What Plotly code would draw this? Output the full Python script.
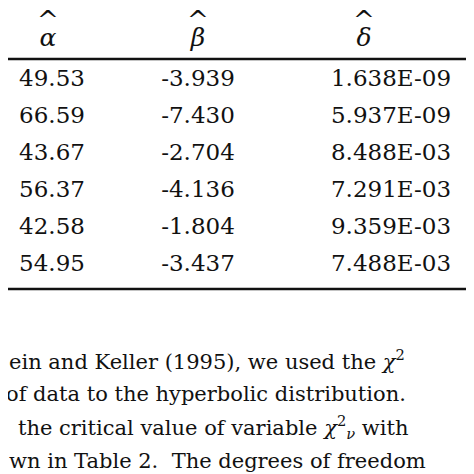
import plotly.graph_objects as go

# ---------- data ----------
headers = ["<i>α</i>", "<i>β</i>", "<i>δ</i>"]
alpha = ["49.53", "66.59", "43.67", "56.37", "42.58", "54.95"]
beta = ["-3.939", "-7.430", "-2.704", "-4.136", "-1.804", "-3.437"]
delta = ["1.638E-09", "5.937E-09", "8.488E-03", "7.291E-03", "9.359E-03", "7.488E-03"]
text_lines = [
    "ein and Keller (1995), we used the <i>χ</i><sup>2</sup>",
    "of data to the hyperbolic distribution.",
    "the critical value of variable <i>χ</i><sup>2</sup><sub><i>ν</i></sub> with",
    "wn in Table 2.  The degrees of freedom",
]

# ---------- layout ----------
col_x = [44, 190, 383]
head_x = [40, 190, 356]
row_y0, row_dy = 72, 37
text_x = [-1, -4, 8, -1]
text_y0, text_dy = 352, 33.5
font = "DejaVu Serif"

fig = go.Figure()
for j, col in enumerate([alpha, beta, delta]):
    fig.add_trace(go.Scatter(
        x=[col_x[j]] * len(col),
        y=[row_y0 + i * row_dy for i in range(len(col))],
        text=col, mode="text", textposition="middle center",
        textfont=dict(family=font, size=23, color="#111"),
        hoverinfo="skip", showlegend=False))

fig.add_trace(go.Scatter(
    x=head_x, y=[32] * 3, text=headers, mode="text",
    textfont=dict(family=font, size=25, color="#111"),
    hoverinfo="skip", showlegend=False))
# the wide hats over the header symbols
fig.add_trace(go.Scatter(
    x=head_x, y=[14] * 3, text=["^"] * 3, mode="text",
    textfont=dict(family=font, size=26, color="#111"),
    hoverinfo="skip", showlegend=False))

for k, line in enumerate(text_lines):
    fig.add_annotation(x=0, xref="paper", xshift=text_x[k],
                       y=text_y0 + k * text_dy, text=line,
                       xanchor="left", yanchor="middle", showarrow=False,
                       font=dict(family=font, size=21, color="#111"))

for yl in [51, 281]:
    fig.add_shape(type="line", x0=0, x1=474, y0=yl, y1=yl,
                  line=dict(color="#111", width=2.5))

fig.update_layout(
    width=474, height=474, margin=dict(l=0, r=0, t=0, b=0),
    paper_bgcolor="white", plot_bgcolor="white",
    xaxis=dict(range=[0, 474], visible=False, fixedrange=True),
    yaxis=dict(range=[474, 0], visible=False, fixedrange=True),
)
fig.write_html("out.html")
